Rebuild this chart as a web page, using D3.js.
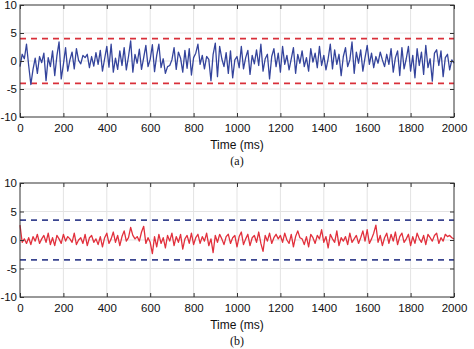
<!DOCTYPE html>
<html>
<head>
<meta charset="utf-8">
<script src="https://cdn.jsdelivr.net/npm/d3@7"></script>
<style>
  body { margin: 0; background: #fff; }
  svg { display: block; font-family: "Liberation Sans", Arial, sans-serif; }
</style>
</head>
<body>
<svg id="chart" width="474" height="349"></svg>
<script>
// sample spacing of both traces, ms
const step = 10;

// panel (a): raw signal, blue
const signalA = [
  -1.0, 1.2, 0.4, 3.0, -0.8, -4.2, -1.5, 0.5, -2.2, 0.8,
  -0.3, 1.4, -3.5, 0.6, -1.0, 1.8, -2.6, 0.9, 3.4, -3.2,
  -0.6, 2.4, -1.8, 0.2, 1.6, -1.4, 2.2, 0.1, -0.5, 1.0,
  0.6, 1.2, -1.2, 0.8, -0.9, 1.5, -0.6, 1.9, -1.8, 0.4,
  2.6, -1.1, 3.0, -2.0, 0.5, -1.5, 1.8, -0.8, 2.4, -1.6,
  0.8, 3.6, -2.0, 1.2, -0.4, 2.1, -1.5, 0.6, 2.8, -1.0,
  0.3, 2.9, -1.9, 1.0, 3.0, -1.2, 0.4, -2.2, -1.0, -0.8,
  0.2, 2.4, -1.5, 1.6, 0.5, -2.0, 1.9, -1.3, 2.2, -2.5,
  0.6, 1.4, 3.0, -0.6, 1.0, -1.4, 0.8, 0.3, -3.5, 1.2,
  3.2, -2.8, 2.6, 0.4, -1.0, 1.5, -2.2, 1.8, -3.0, 0.2,
  0.8, -1.2, 2.6, -1.4, 0.6, 1.9, -2.4, 1.0, -0.5, 2.0,
  -0.8, 3.0, -1.8, 0.4, 1.2, -3.2, 0.8, 2.2, -1.0, 1.4,
  -2.0, 2.6, -0.6, 1.0, -1.6, 0.4, 2.4, -2.2, 1.2, -0.4,
  1.8, -1.0, 0.6, -1.8, 2.2, -0.2, 1.4, -1.2, 2.6, -0.8,
  1.0, -1.6, 0.4, 3.0, -1.4, 2.0, -0.6, 1.2, -2.6, 0.8,
  2.4, -1.0, 0.2, 3.4, -2.2, 1.6, -0.4, 2.0, -1.8, 0.6,
  2.8, -0.6, 1.4, -1.2, 0.8, -0.4, 1.6, 0.2, -1.0, 1.2,
  -0.6, 2.2, -2.0, 0.6, 1.8, -2.6, 2.4, -1.4, 0.4, 2.6,
  -1.8, 1.0, -3.0, 2.2, -0.8, 1.6, -2.4, 2.8, -1.2, 0.4,
  -3.6, 1.4, 2.0, -0.8, 1.8, -2.8, 0.6, 1.2, -1.6, 0.2,
  -0.4
];

// panel (b): filtered signal, red
const signalB = [
  2.6, -0.4, 0.2, -0.6, 0.4, -0.8, 0.6, -0.2, 1.0, -0.6,
  0.2, 0.8, -0.4, 1.2, -0.8, 0.4, -1.0, 0.8, 0.2, -0.6,
  1.0, -0.2, 0.6, 0.2, -0.4, 1.2, -0.8, 0.0, 0.4, -0.6,
  1.0, -1.0, 0.4, 0.8, -0.4, 0.2, -0.8, 0.6, -1.2, 0.4,
  1.2, -0.6, 0.2, 1.4, -0.4, 0.8, -1.0, 0.6, 1.6, -0.2,
  0.4, 2.2, 0.8, 0.2, 0.6, -0.2, 1.4, 2.4, -0.6, 0.4,
  -0.4, -2.4, 0.6, -1.2, 1.0, -0.6, 0.4, -1.4, 0.8, -0.2,
  1.2, -1.0, 0.6, -0.4, 1.0, -1.6, 0.2, 0.8, -0.6, 1.2,
  -0.8, 0.4, 1.0, -0.6, 0.6, -0.2, 1.2, -1.0, 0.2, -2.2,
  0.8, -0.4, 1.0, 0.2, -0.8, 0.6, 1.0, -0.6, 0.4, 0.8,
  -1.2, 0.6, 1.4, -0.8, 0.2, 1.0, -1.0, 0.4, 0.8, -0.4,
  1.4, -0.6, -2.0, 0.8, -0.2, 1.2, -0.6, 0.4, 1.0, 0.2,
  0.8, -0.4, 1.2, 0.0, -0.6, 1.0, -1.2, 0.6, 1.6, 0.4,
  0.2, -0.8, 0.6, -1.2, 1.0, 0.4, -0.6, 0.8, 0.2, 1.8,
  -0.4, 0.6, -1.4, 1.0, 0.2, -0.4, 1.6, -1.0, 0.4, -0.2,
  0.6, -0.8, 1.2, -0.4, 0.2, 0.8, -0.6, 0.4, 1.6, -0.2,
  1.8, -0.6, 0.2, 1.2, 2.6, -0.4, 0.8, -1.0, 0.4, 1.2,
  -0.6, 1.0, -0.2, 1.4, -0.8, 0.6, 1.2, -0.4, 0.2, 1.0,
  -1.0, 0.6, -0.6, 1.2, 0.2, -0.4, 0.8, -0.8, 1.0, 0.4,
  -0.2, 0.8, 1.2, -0.6, 0.4, -0.2, 1.0, 0.6, 0.8, 0.4,
  0.2
];

// threshold lines
const thresholdsA = [4, -4];
const thresholdsB = [3.5, -3.5];

const xTicks = d3.range(0, 2001, 200);
const yTicks = [-10, -5, 0, 5, 10];
const xLabel = "Time (ms)";

const svg = d3.select("#chart");
const left = 20, right = 454;
const fmt = d => String(d); // plain hyphen minus, no thousands comma

const x = d3.scaleLinear().domain([0, 2000]).range([left, right]);

function panel(top, bottom, data, thresholds, lineColor, dashColor, caption) {
  const y = d3.scaleLinear().domain([-10, 10]).range([bottom, top]);
  const g = svg.append("g");

  // grid
  g.selectAll(".vgrid").data(xTicks.slice(1, -1)).enter().append("line")
    .attr("x1", d => x(d)).attr("x2", d => x(d))
    .attr("y1", top).attr("y2", bottom)
    .attr("stroke", "#e3e3e3").attr("stroke-width", 1);
  g.selectAll(".hgrid").data(yTicks.slice(1, -1)).enter().append("line")
    .attr("x1", left).attr("x2", right)
    .attr("y1", d => y(d)).attr("y2", d => y(d))
    .attr("stroke", "#e3e3e3").attr("stroke-width", 1);

  // thresholds
  g.selectAll(".thr").data(thresholds).enter().append("line")
    .attr("x1", left).attr("x2", right)
    .attr("y1", d => y(d)).attr("y2", d => y(d))
    .attr("stroke", dashColor).attr("stroke-width", 1.7)
    .attr("stroke-dasharray", "6,5");

  // trace
  const line = d3.line()
    .x((d, i) => x(i * step))
    .y(d => y(d));
  g.append("path").datum(data)
    .attr("fill", "none")
    .attr("stroke", lineColor)
    .attr("stroke-width", 1.3)
    .attr("stroke-linejoin", "round")
    .attr("d", line);

  // axes, ticks pointing inward on all four sides
  g.append("g").attr("transform", `translate(0,${bottom})`)
    .call(d3.axisBottom(x).tickValues(xTicks).tickFormat(fmt).tickSizeInner(-4).tickSizeOuter(0).tickPadding(7))
    .call(a => a.select(".domain").remove());
  g.append("g").attr("transform", `translate(0,${top})`)
    .call(d3.axisTop(x).tickValues(xTicks).tickSizeInner(-4).tickSizeOuter(0).tickFormat(""))
    .call(a => a.select(".domain").remove());
  g.append("g").attr("transform", `translate(${left},0)`)
    .call(d3.axisLeft(y).tickValues(yTicks).tickFormat(fmt).tickSizeInner(-4).tickSizeOuter(0).tickPadding(3))
    .call(a => a.select(".domain").remove());
  g.append("g").attr("transform", `translate(${right},0)`)
    .call(d3.axisRight(y).tickValues(yTicks).tickSizeInner(-4).tickSizeOuter(0).tickFormat(""))
    .call(a => a.select(".domain").remove());

  g.selectAll(".tick text").attr("font-size", 11.5).attr("fill", "#111")
    .attr("font-family", "Liberation Sans, Arial, sans-serif");
  g.selectAll(".tick line").attr("stroke", "#333");

  g.append("rect")
    .attr("x", left).attr("y", top)
    .attr("width", right - left).attr("height", bottom - top)
    .attr("fill", "none").attr("stroke", "#333").attr("stroke-width", 1);

  g.append("text")
    .attr("x", (left + right) / 2).attr("y", bottom + 32)
    .attr("text-anchor", "middle").attr("font-size", 12).attr("fill", "#111")
    .text(xLabel);
  g.append("text")
    .attr("x", (left + right) / 2).attr("y", bottom + 48)
    .attr("text-anchor", "middle").attr("font-size", 12).attr("fill", "#111")
    .attr("font-family", "Liberation Serif, Times New Roman, serif")
    .text(caption);
}

panel(5, 117, signalA, thresholdsA, "#34449c", "#d9303a", "(a)");
panel(183, 297, signalB, thresholdsB, "#e2303c", "#3a4590", "(b)");
</script>
</body>
</html>
